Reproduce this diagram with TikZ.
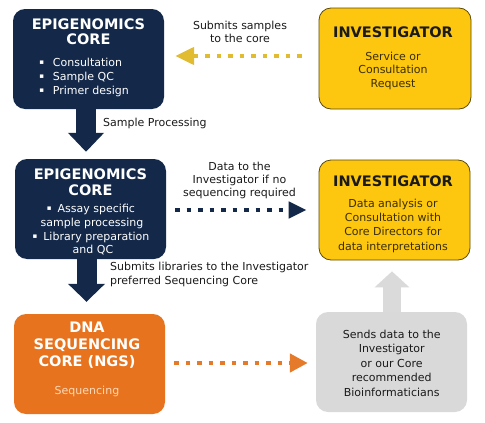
\documentclass[tikz,border=0pt]{standalone}
\usepackage{fontspec}
\setmainfont{DejaVu Sans}
\usetikzlibrary{arrows.meta,calc}
\definecolor{navy}{HTML}{14294A}
\definecolor{ylw}{HTML}{FDC70F}
\definecolor{ylwborder}{HTML}{5C4A0A}
\definecolor{ylwarrow}{HTML}{E2BC30}
\definecolor{ylwtext}{HTML}{3A2E05}
\definecolor{orng}{HTML}{E8731E}
\definecolor{orngarrow}{HTML}{E47A2A}
\definecolor{peach}{HTML}{FBD9B8}
\definecolor{gry}{HTML}{D9D9D9}
\definecolor{gryarrow}{HTML}{DADADA}
\definecolor{txt}{HTML}{1A1A1A}
\newcommand{\sqbul}{{\fontsize{7}{8}\selectfont▪}}
\tikzset{
  box/.style={rounded corners=12pt, inner sep=0pt, minimum width=151pt, minimum height=100pt},
  ttl/.style={inner sep=0pt, anchor=base, font=\fontsize{14.5}{17}\selectfont\bfseries},
  body/.style={inner sep=0pt, anchor=base, font=\fontsize{11}{13}\selectfont},
  bodyl/.style={body, anchor=base west},
  dotarrow/.style={line width=4.5pt, line cap=butt, dash pattern=on 4.5pt off 7pt},
  blockarrow/.style={line width=20pt, line cap=butt},
}
\begin{document}
\begin{tikzpicture}[x=1pt,y=-1pt]
\useasboundingbox[fill=white] (0,0) rectangle (485,423);

% boxes
\node[box, fill=navy] (c1) at (88.5,59) {};
\node[box, fill=ylw, draw=ylwborder, line width=0.8pt, minimum width=152pt, minimum height=101pt] (i1) at (395,58.5) {};
\node[box, fill=navy] (c2) at (90.5,209) {};
\node[box, fill=ylw, draw=ylwborder, line width=0.8pt] (i2) at (394.5,210) {};
\node[box, fill=orng] (o) at (89.5,364) {};
\node[box, fill=gry] (g) at (391.5,362) {};

% box 1 text
\node[ttl, text=white] (c1t1) at (88.5,29) {EPIGENOMICS};
\node[ttl, text=white] (c1t2) at (88.5,45) {CORE};
\node[body, text=white] (c1b1) at (41.7,64) {\sqbul};
\node[body, text=white] (c1b2) at (41.7,78.3) {\sqbul};
\node[body, text=white] (c1b3) at (41.7,92.3) {\sqbul};
\node[bodyl, text=white] (c1l1) at (52.7,66) {Consultation};
\node[bodyl, text=white] (c1l2) at (52.7,80.3) {Sample QC};
\node[bodyl, text=white] (c1l3) at (52.7,94.3) {Primer design};

% investigator 1 text
\node[ttl, text=txt] (i1t) at (393,37) {INVESTIGATOR};
\node[body, text=ylwtext] (i1l1) at (393,60) {Service or};
\node[body, text=ylwtext] (i1l2) at (393,73.7) {Consultation};
\node[body, text=ylwtext] (i1l3) at (393,87.3) {Request};

% box 2 text
\node[ttl, text=white] (c2t1) at (90.5,179.3) {EPIGENOMICS};
\node[ttl, text=white] (c2t2) at (90.5,195) {CORE};
\node[body, text=white] (c2l1) at (91,212.5) {\raisebox{2pt}{\sqbul}\hspace{6pt}Assay specific};
\node[body, text=white] (c2l2) at (92,226.5) {sample processing};
\node[body, text=white] (c2l3) at (91,240) {\raisebox{2pt}{\sqbul}\hspace{6pt}Library preparation};
\node[body, text=white] (c2l4) at (93,253.5) {and QC};

% investigator 2 text
\node[ttl, text=txt] (i2t) at (393,186.7) {INVESTIGATOR};
\node[body, text=ylwtext] (i2l1) at (393,207) {Data analysis or};
\node[body, text=ylwtext] (i2l2) at (393,221.3) {Consultation with};
\node[body, text=ylwtext] (i2l3) at (393,235.6) {Core Directors for};
\node[body, text=ylwtext] (i2l4) at (393,250) {data interpretations};

% orange text
\node[ttl, text=white] (ot1) at (87,332.7) {DNA};
\node[ttl, text=white] (ot2) at (87,349.3) {SEQUENCING};
\node[ttl, text=white] (ot3) at (87,366) {CORE (NGS)};
\node[body, text=peach] (ol) at (87,394) {Sequencing};

% gray text
\node[body, text=txt] (gl1) at (391.7,338) {Sends data to the};
\node[body, text=txt] (gl2) at (391.7,352.5) {Investigator};
\node[body, text=txt] (gl3) at (391.7,367) {or our Core};
\node[body, text=txt] (gl4) at (391.7,381.5) {recommended};
\node[body, text=txt] (gl5) at (391.7,396) {Bioinformaticians};

% connector labels
\node[body, text=txt] (a1l1) at (240,29) {Submits samples};
\node[body, text=txt] (a1l2) at (240,42.7) {to the core};
\node[bodyl, text=txt] (a2l) at (103,126.7) {Sample Processing};
\node[body, text=txt] (a3l1) at (239.5,170) {Data to the};
\node[body, text=txt] (a3l2) at (239.5,183) {Investigator if no};
\node[body, text=txt] (a3l3) at (239.5,196) {sequencing required};
\node[bodyl, text=txt] (a4l1) at (110,270) {Submits libraries to the Investigator};
\node[bodyl, text=txt] (a4l2) at (110,284) {preferred Sequencing Core};

% connectors
\draw[dotarrow, draw=ylwarrow, -{Triangle[width=17pt,length=19pt]}, shorten <=17pt, shorten >=11pt]
  ([yshift=2.5pt]i1.west) -- ([yshift=3pt]c1.east);
\draw[blockarrow, draw=navy, -{Triangle[width=35pt,length=19pt]}, shorten >=7pt]
  ([xshift=-2.5pt]c1.south) -- ([xshift=-4.5pt]c2.north);
\draw[dotarrow, draw=navy, -{Triangle[width=16pt,length=18pt]}, shorten <=9pt, shorten >=12pt]
  ([yshift=-1pt]c2.east) -- (i2.west);
\draw[blockarrow, draw=navy, -{Triangle[width=36pt,length=18pt]}, shorten >=12pt]
  ([xshift=-4pt]c2.south) -- ([xshift=-3pt]o.north);
\draw[dotarrow, draw=orngarrow, -{Triangle[width=18pt,length=18pt]}, shorten <=9pt, shorten >=8pt]
  ([yshift=1pt]o.east) -- ([yshift=-1pt]g.west);
\draw[line width=18pt, line cap=butt, draw=gryarrow, -{Triangle[width=34pt,length=16pt]}, shorten >=11pt]
  ([xshift=0.5pt]g.north) -- ([xshift=-2.5pt]i2.south);
\end{tikzpicture}
\end{document}
